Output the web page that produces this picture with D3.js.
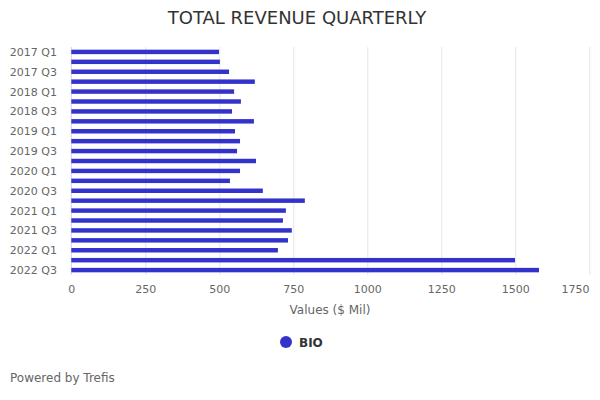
<!DOCTYPE html>
<html><head><meta charset="utf-8">
<script src="https://cdn.jsdelivr.net/npm/d3@7"></script>
<style>body{margin:0;background:#fff;}svg{font-family:"DejaVu Sans",sans-serif;}</style>
</head><body>
<svg id="c" width="600" height="400"></svg>
<script>
const categories = ["2017 Q1","2017 Q2","2017 Q3","2017 Q4","2018 Q1","2018 Q2","2018 Q3","2018 Q4","2019 Q1","2019 Q2","2019 Q3","2019 Q4","2020 Q1","2020 Q2","2020 Q3","2020 Q4","2021 Q1","2021 Q2","2021 Q3","2021 Q4","2022 Q1","2022 Q2","2022 Q3"];
const values = [499,502,533,620,550,573,543,617,553,570,560,624,570,536,647,789,725,715,745,732,698,1499,1580];
const xTicks = [0,250,500,750,1000,1250,1500,1750];
const seriesName = "BIO";

const svg = d3.select("#c");
const m = {left:71.3, right:589.3, top:47, bottom:275};
const x = d3.scaleLinear().domain([0,1750]).range([m.left, m.right]);
const y = d3.scaleBand().domain(categories).range([m.top, m.bottom]).paddingInner(0.55).paddingOuter(0.27);

svg.append("text").attr("x",297).attr("y",24).attr("text-anchor","middle")
  .attr("font-size",18).attr("fill","#333").text("TOTAL REVENUE QUARTERLY");

// grid
svg.append("g").selectAll("line").data(xTicks).join("line")
  .attr("x1",d=>x(d)+0.5).attr("x2",d=>x(d)+0.5)
  .attr("y1",m.top).attr("y2",m.bottom)
  .attr("stroke",d=>d===0?"none":"#e6e6e6").attr("stroke-width",1);

// left axis line
svg.append("line").attr("x1",x(0)).attr("x2",x(0)).attr("y1",m.top).attr("y2",m.bottom)
  .attr("stroke","#ccd6eb");

// bars
svg.append("g").selectAll("rect").data(values).join("rect")
  .attr("x",x(0)).attr("y",(d,i)=>y(categories[i]))
  .attr("width",d=>x(d)-x(0)).attr("height",y.bandwidth())
  .attr("fill","#3333cc");

// y labels (every other)
svg.append("g").selectAll("text").data(categories.filter((d,i)=>i%2===0)).join("text")
  .attr("x",57).attr("y",d=>y(d)+y.bandwidth()/2+4)
  .attr("text-anchor","end").attr("font-size",11).attr("fill","#666").text(d=>d);

// x axis labels
const xa = svg.append("g").attr("transform",`translate(0,${m.bottom})`)
  .call(d3.axisBottom(x).tickValues(xTicks).tickSize(0).tickPadding(10).tickFormat(d3.format("d")));
xa.select(".domain").remove();
xa.selectAll("text").attr("font-size",11).attr("fill","#666").attr("font-family","DejaVu Sans");
// keep last label inside the chart
xa.selectAll(".tick").filter(d=>d===1750).select("text")
  .attr("text-anchor","end").attr("x",589 - x(1750));

svg.append("text").attr("x",330).attr("y",314).attr("text-anchor","middle")
  .attr("font-size",12).attr("fill","#666").text("Values ($ Mil)");

// legend
svg.append("circle").attr("cx",286).attr("cy",342).attr("r",6).attr("fill","#3333cc");
svg.append("text").attr("x",299).attr("y",347).attr("font-size",12).attr("font-weight","bold")
  .attr("fill","#333").text(seriesName);

svg.append("text").attr("x",10).attr("y",382).attr("font-size",12).attr("fill","#666").text("Powered by Trefis");
</script>
</body></html>
